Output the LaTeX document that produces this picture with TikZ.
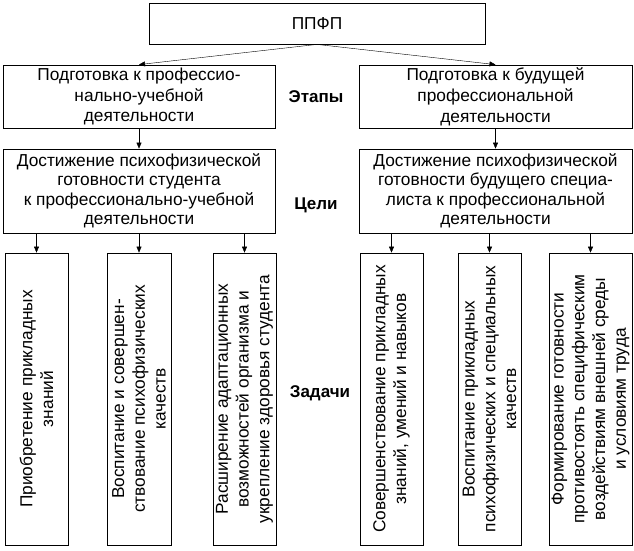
\documentclass[tikz,border=0pt]{standalone}
\usepackage{fontspec}
\setmainfont{Liberation Sans}
\usetikzlibrary{arrows.meta}
\begin{document}
\begin{tikzpicture}[x=1pt,y=-1pt,
    box/.style={draw,line width=0.8pt,align=center,inner sep=0pt,
      font=\fontsize{17.3}{20.8}\selectfont},
    goal/.style={box,minimum height=84pt,
      font=\fontsize{17.3}{19.5}\selectfont},
    task/.style={box,rotate=90,minimum width=292pt,minimum height=63pt},
    tag/.style={font=\fontsize{17}{20}\selectfont\bfseries},
    >={Triangle[length=6pt,width=5pt]}]
  \useasboundingbox (0,0) rectangle (634,550);
  % top
  \node[box,minimum width=336pt,minimum height=41pt] (ppfp) at (317,23.5) {ППФП};
  % stages
  \node[box,minimum width=272pt,minimum height=63pt] (stL) at (139,96.5)
    {Подготовка к профессио-\\нально-учебной\\деятельности};
  \node[box,minimum width=273pt,minimum height=63pt] (stR) at (495.5,96.5)
    {Подготовка к будущей\\профессиональной\\деятельности};
  \node[tag] (etapy) at (316,97) {Этапы};
  % goals
  \node[goal,minimum width=272pt] (goalL) at (139,191)
    {Достижение психофизической\\готовности студента\\к профессионально-учебной\\деятельности};
  \node[goal,minimum width=273pt] (goalR) at (495.5,191)
    {Достижение психофизической\\готовности будущего специа-\\листа к профессиональной\\деятельности};
  \node[tag] (celi) at (316,205) {Цели};
  % tasks
  \node[task] (taskA) at (36.5,399) {Приобретение прикладных\\знаний};
  \node[task,minimum height=64pt] (taskB) at (139,399)
    {Воспитание и совершен-\\ствование психофизических\\качеств};
  \node[task] (taskC) at (244.5,399)
    {Расширение адаптационных\\возможностей организма и\\укрепление здоровья студента};
  \node[task] (taskD) at (391.5,399)
    {Совершенствование прикладных\\знаний, умений и навыков};
  \node[task] (taskE) at (489.5,399)
    {Воспитание прикладных\\психофизических и специальных\\качеств};
  \node[task,minimum height=83pt] (taskF) at (590.5,399)
    {Формирование готовности\\противостоять специфическим\\воздействиям внешней среды\\и условиям труда};
  \node[tag] (zadachi) at (320,393) {Задачи};
  % arrows
  \draw[->] (ppfp.south) -- (stL.north);
  \draw[->] (ppfp.south) -- (stR.north);
  \draw[->] (stL) -- (goalL);
  \draw[->] (stR) -- (goalR);
  \foreach \t in {taskA,taskB,taskC}
    \draw[->] (\t.east |- goalL.south) -- (\t.east);
  \foreach \t in {taskD,taskE,taskF}
    \draw[->] (\t.east |- goalR.south) -- (\t.east);
\end{tikzpicture}
\end{document}
